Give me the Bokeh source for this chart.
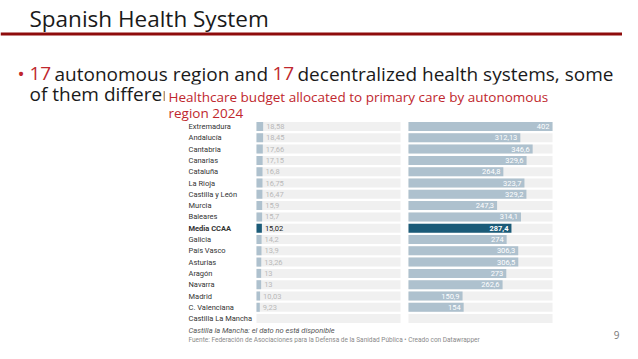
from bokeh.plotting import figure
from bokeh.models import Range1d, ColumnDataSource, Span
from bokeh.core.properties import value, field
from bokeh.embed import file_html
from bokeh.resources import INLINE
import math

# ---------------- data ----------------
regions = ["Extremadura", "Andalucía", "Cantabria", "Canarias", "Cataluña", "La Rioja",
           "Castilla y León", "Murcia", "Baleares", "Media CCAA", "Galicia", "País Vasco",
           "Asturias", "Aragón", "Navarra", "Madrid", "C. Valenciana", "Castilla La Mancha"]
pct_budget = [18.58, 18.45, 17.66, 17.15, 16.8, 16.75, 16.47, 15.9, 15.7, 15.02, 14.2, 13.9,
              13.26, 13, 13, 10.03, 9.23, None]
per_capita = [402, 312.13, 346.6, 329.6, 264.8, 323.7, 329.2, 247.3, 314.1, 287.4, 274, 306.3,
              306.5, 273, 262.6, 150.9, 154, None]
highlight = "Media CCAA"

slide_title = "Spanish Health System"
chart_title = ["Healthcare budget allocated to primary care by autonomous", "region 2024"]
note = "Castilla la Mancha: el dato no está disponible"
source_txt = "Fuente: Federación de Asociaciones para la Defensa de la Sanidad Pública • Creado con Datawrapper"

# ---------------- layout helpers ----------------
W, H = 622, 343
FX0, FX1 = 0, W
FY0, FY1 = 0, H
RED = "#c0272d"
DARKRED = "#8e0b0b"

def xr(px_a, px_b, v_a, v_b):
    k = (v_b - v_a) / (px_b - px_a)
    s = v_a - (px_a - FX0) * k
    return Range1d(s, s + W * k)

vmax = max(v for v in per_capita if v is not None)
row0, pitch = 126.0, 11.3

p = figure(width=W, height=H, output_backend="svg", toolbar_location=None,
           x_range=Range1d(FX0, FX1), y_range=Range1d(FY1, FY0),
           x_axis_type=None, y_axis_type=None, min_border=0,
           outline_line_color=None, background_fill_color="white")
p.grid.visible = False
p.extra_x_ranges = {"left": xr(256, 400, 0, vmax), "right": xr(408, 552, 0, vmax)}
p.extra_y_ranges = {"rows": Range1d((FY1 - row0) / pitch, (FY0 - row0) / pitch)}

# ---------------- slide text ----------------
p.text(x=[29], y=[18], text=[slide_title], text_font=value("Open Sans"),
       text_font_size="22.5px", text_color="#1a1a1a", text_baseline="middle")
p.add_layout(Span(location=33.5, dimension="width", line_color=DARKRED, line_width=3))

pieces = [("•", 17, RED), ("17", 29, RED), ("autonomous region and", 54, "#1a1a1a"),
          ("17", 272, RED), ("decentralized health systems, some", 297, "#1a1a1a")]
p.text(x=[q[1] for q in pieces], y=[73] * len(pieces), text=[q[0] for q in pieces],
       text_color=[q[2] for q in pieces], text_font=value("Open Sans"),
       text_font_size="19px", text_baseline="middle")
p.text(x=[29], y=[93], text=["of them different in terms of organization"],
       text_color="#1a1a1a", text_font=value("Open Sans"), text_font_size="19px",
       text_baseline="middle")

# white chart card covering the text
p.quad(left=[164], right=[FX1], top=[84], bottom=[FY1 + 10], fill_color="white", line_color=None)

p.text(x=[168, 168], y=[96, 112], text=chart_title, text_color=RED,
       text_font=value("Open Sans"), text_font_size="13.5px", text_baseline="middle")

# ---------------- chart ----------------
def fmt(v):
    return "" if v is None else f"{v:g}".replace(".", ",")

n = len(regions)
is_hl = [r == highlight for r in regions]
src = ColumnDataSource(dict(
    idx=list(range(n)),
    region=regions,
    pct=[math.nan if v is None else v for v in pct_budget],
    cap=[math.nan if v is None else v for v in per_capita],
    full=[vmax] * n,
    pct_lbl=[fmt(v) for v in pct_budget],
    cap_lbl=[fmt(v) for v in per_capita],
    bar_col=["#1b5b78" if h else "#aec1ce" for h in is_hl],
    pct_col=["#222222" if h else "#b9b9b9" for h in is_hl],
    style=["bold" if h else "normal" for h in is_hl],
))

bh = 9.0 / pitch
for rn in ("left", "right"):
    p.hbar(y="idx", left=0, right="full", height=bh, source=src, fill_color="#f0f0f0",
           line_color=None, x_range_name=rn, y_range_name="rows")
p.hbar(y="idx", left=0, right="pct", height=bh, source=src, fill_color="bar_col",
       line_color=None, x_range_name="left", y_range_name="rows")
p.hbar(y="idx", left=0, right="cap", height=bh, source=src, fill_color="bar_col",
       line_color=None, x_range_name="right", y_range_name="rows")

p.text(x=188, y="idx", text="region", source=src, text_font=value("Roboto"),
       text_font_size="7.5px", text_color="#333333", text_baseline="middle",
       text_font_style=field("style"), y_range_name="rows")
p.text(x="pct", y="idx", text="pct_lbl", source=src, x_offset=3, text_font=value("Roboto"),
       text_font_size="7.5px", text_color="pct_col", text_baseline="middle",
       x_range_name="left", y_range_name="rows")
p.text(x="cap", y="idx", text="cap_lbl", source=src, x_offset=-3, text_font=value("Roboto"),
       text_font_size="7.5px", text_color="white", text_baseline="middle", text_align="right",
       text_font_style=field("style"), x_range_name="right", y_range_name="rows")

p.text(x=[188], y=[330], text=[note], text_font=value("Roboto"), text_font_size="7.5px",
       text_font_style="italic", text_color="#555555", text_baseline="middle")
p.text(x=[188], y=[339], text=[source_txt], text_font=value("Roboto"), text_font_size="6.5px",
       text_color="#8a8a8a", text_baseline="middle")
p.text(x=[FX1 - 3], y=[334], text=["9"], text_font=value("Open Sans"), text_font_size="10px",
       text_color="#7a7a7a", text_baseline="middle", text_align="right")

open("out.html", "w").write(file_html(p, INLINE))
